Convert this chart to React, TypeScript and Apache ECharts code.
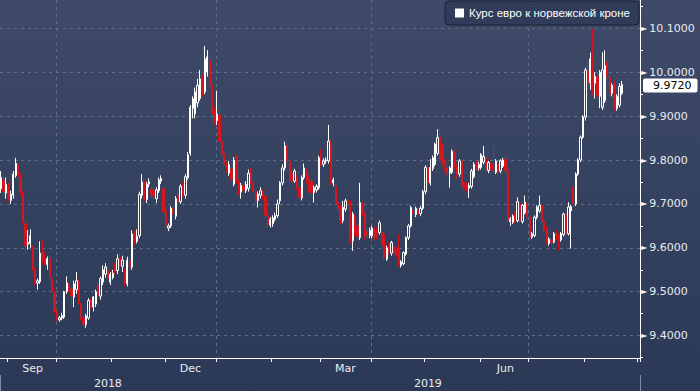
import React, { useEffect, useRef } from "react";
import * as echarts from "echarts";

const LEGEND_NAME = "Курс евро к норвежской кроне";
const LAST_PRICE = 9.972;
const START_DAY = "2018-08-29";
const END_DAY = "2019-09-02";
const MONTH_NAMES = ["Jan", "Feb", "Mar", "Apr", "May", "Jun", "Jul", "Aug", "Sep", "Oct", "Nov", "Dec"];
const LABEL_MONTHS = ["09", "12", "03", "06"];
const GRID_MONTHS = ["10", "01", "04", "07"];
const Y_MIN = 9.349;
const Y_MAX = 10.1645;

// [open, close, low, high] per trading day
const candles: number[][] = [
  [9.735, 9.760, 9.725, 9.775], [9.755, 9.728, 9.720, 9.765], [9.725, 9.745, 9.712, 9.760], [9.740, 9.712, 9.705, 9.748],
  [9.708, 9.722, 9.700, 9.730], [9.720, 9.768, 9.712, 9.775], [9.765, 9.792, 9.760, 9.805], [9.790, 9.762, 9.755, 9.805],
  [9.762, 9.728, 9.720, 9.770], [9.726, 9.660, 9.655, 9.730], [9.655, 9.605, 9.585, 9.660], [9.608, 9.612, 9.596, 9.640],
  [9.610, 9.628, 9.600, 9.642], [9.600, 9.552, 9.548, 9.605], [9.550, 9.522, 9.515, 9.555], [9.520, 9.525, 9.505, 9.530],
  [9.523, 9.588, 9.518, 9.615], [9.590, 9.575, 9.565, 9.618], [9.575, 9.565, 9.560, 9.590], [9.562, 9.575, 9.550, 9.580],
  [9.575, 9.532, 9.528, 9.582], [9.530, 9.502, 9.498, 9.535], [9.500, 9.455, 9.450, 9.505], [9.455, 9.437, 9.432, 9.460],
  [9.436, 9.441, 9.432, 9.445], [9.440, 9.446, 9.435, 9.452], [9.442, 9.500, 9.438, 9.502], [9.500, 9.520, 9.495, 9.535],
  [9.516, 9.506, 9.500, 9.520], [9.506, 9.490, 9.468, 9.510], [9.488, 9.518, 9.465, 9.525], [9.505, 9.525, 9.495, 9.545],
  [9.525, 9.478, 9.472, 9.528], [9.470, 9.440, 9.435, 9.475], [9.440, 9.426, 9.418, 9.445], [9.425, 9.445, 9.418, 9.450],
  [9.440, 9.480, 9.436, 9.485], [9.480, 9.466, 9.460, 9.485], [9.465, 9.488, 9.455, 9.490], [9.472, 9.500, 9.465, 9.505],
  [9.515, 9.490, 9.485, 9.520], [9.490, 9.530, 9.482, 9.535], [9.522, 9.550, 9.515, 9.560], [9.540, 9.556, 9.532, 9.565],
  [9.550, 9.530, 9.526, 9.556], [9.522, 9.540, 9.515, 9.545], [9.532, 9.542, 9.528, 9.550], [9.560, 9.545, 9.540, 9.566],
  [9.548, 9.575, 9.540, 9.585], [9.578, 9.560, 9.552, 9.590], [9.558, 9.572, 9.545, 9.582], [9.548, 9.518, 9.512, 9.552],
  [9.518, 9.572, 9.512, 9.580], [9.571, 9.556, 9.550, 9.576], [9.556, 9.632, 9.550, 9.640], [9.630, 9.616, 9.608, 9.640],
  [9.615, 9.626, 9.610, 9.642], [9.628, 9.722, 9.622, 9.728], [9.720, 9.750, 9.712, 9.768], [9.752, 9.708, 9.700, 9.758],
  [9.710, 9.745, 9.702, 9.750], [9.745, 9.750, 9.738, 9.758], [9.734, 9.720, 9.715, 9.738], [9.730, 9.716, 9.710, 9.735],
  [9.712, 9.732, 9.702, 9.738], [9.730, 9.755, 9.725, 9.760], [9.752, 9.758, 9.745, 9.765], [9.735, 9.682, 9.678, 9.740],
  [9.685, 9.652, 9.645, 9.690], [9.645, 9.650, 9.638, 9.655], [9.650, 9.690, 9.645, 9.695], [9.690, 9.676, 9.670, 9.700],
  [9.672, 9.712, 9.665, 9.718], [9.720, 9.705, 9.698, 9.732], [9.705, 9.740, 9.700, 9.745], [9.745, 9.722, 9.715, 9.750],
  [9.720, 9.762, 9.712, 9.768], [9.760, 9.812, 9.755, 9.818], [9.815, 9.920, 9.810, 9.925], [9.918, 9.940, 9.895, 9.945],
  [9.905, 9.955, 9.895, 9.965], [9.930, 9.970, 9.920, 9.985], [9.940, 9.985, 9.935, 10.005], [9.980, 9.954, 9.945, 9.995],
  [9.955, 10.030, 9.950, 10.060], [10.000, 10.035, 9.990, 10.050], [10.026, 9.970, 9.965, 10.040], [9.970, 9.905, 9.900, 9.985],
  [9.912, 9.890, 9.882, 9.920], [9.890, 9.905, 9.880, 9.958], [9.902, 9.842, 9.838, 9.930], [9.842, 9.812, 9.806, 9.848],
  [9.815, 9.790, 9.784, 9.820], [9.790, 9.780, 9.772, 9.795], [9.770, 9.790, 9.764, 9.798], [9.780, 9.756, 9.750, 9.785],
  [9.745, 9.800, 9.740, 9.807], [9.807, 9.752, 9.746, 9.812], [9.750, 9.727, 9.720, 9.756], [9.727, 9.742, 9.712, 9.748],
  [9.742, 9.730, 9.724, 9.748], [9.730, 9.745, 9.725, 9.752], [9.735, 9.770, 9.728, 9.778], [9.772, 9.750, 9.745, 9.782],
  [9.750, 9.728, 9.722, 9.755], [9.728, 9.708, 9.700, 9.732], [9.708, 9.722, 9.692, 9.728], [9.720, 9.730, 9.712, 9.738],
  [9.728, 9.716, 9.710, 9.734], [9.718, 9.674, 9.668, 9.722], [9.674, 9.652, 9.646, 9.678], [9.652, 9.665, 9.646, 9.670],
  [9.655, 9.668, 9.648, 9.674], [9.665, 9.673, 9.660, 9.680], [9.673, 9.700, 9.668, 9.710], [9.707, 9.748, 9.700, 9.752],
  [9.748, 9.782, 9.742, 9.790], [9.782, 9.832, 9.776, 9.842], [9.832, 9.798, 9.792, 9.838], [9.798, 9.752, 9.746, 9.802],
  [9.770, 9.752, 9.746, 9.778], [9.752, 9.775, 9.748, 9.780], [9.760, 9.737, 9.732, 9.766], [9.737, 9.714, 9.708, 9.742],
  [9.714, 9.760, 9.708, 9.765], [9.760, 9.782, 9.755, 9.792], [9.775, 9.752, 9.746, 9.780], [9.760, 9.730, 9.725, 9.765],
  [9.752, 9.726, 9.720, 9.756], [9.726, 9.737, 9.703, 9.742], [9.732, 9.740, 9.726, 9.745], [9.737, 9.805, 9.732, 9.810],
  [9.800, 9.790, 9.785, 9.825], [9.790, 9.798, 9.784, 9.804], [9.798, 9.800, 9.792, 9.806], [9.798, 9.843, 9.792, 9.880],
  [9.840, 9.748, 9.742, 9.846], [9.748, 9.755, 9.740, 9.760], [9.740, 9.700, 9.695, 9.745], [9.703, 9.688, 9.684, 9.706],
  [9.692, 9.660, 9.654, 9.698], [9.662, 9.692, 9.656, 9.707], [9.688, 9.707, 9.682, 9.712], [9.707, 9.700, 9.694, 9.712],
  [9.703, 9.616, 9.610, 9.708], [9.616, 9.677, 9.593, 9.682], [9.670, 9.632, 9.626, 9.675], [9.650, 9.625, 9.618, 9.655],
  [9.623, 9.703, 9.618, 9.748], [9.700, 9.677, 9.672, 9.705], [9.677, 9.623, 9.618, 9.682], [9.638, 9.628, 9.620, 9.642],
  [9.628, 9.640, 9.622, 9.646], [9.627, 9.645, 9.622, 9.650], [9.642, 9.623, 9.618, 9.648], [9.640, 9.625, 9.620, 9.645],
  [9.635, 9.657, 9.630, 9.662], [9.635, 9.605, 9.600, 9.646], [9.631, 9.578, 9.572, 9.636], [9.574, 9.600, 9.570, 9.605],
  [9.608, 9.589, 9.584, 9.612], [9.588, 9.612, 9.582, 9.616], [9.601, 9.588, 9.583, 9.606], [9.598, 9.584, 9.578, 9.602],
  [9.600, 9.563, 9.558, 9.630], [9.560, 9.568, 9.555, 9.572], [9.564, 9.589, 9.560, 9.592], [9.586, 9.623, 9.582, 9.626],
  [9.623, 9.650, 9.618, 9.654], [9.650, 9.692, 9.646, 9.696], [9.685, 9.677, 9.670, 9.690], [9.676, 9.690, 9.670, 9.694],
  [9.686, 9.676, 9.670, 9.690], [9.678, 9.690, 9.672, 9.695], [9.690, 9.728, 9.686, 9.732], [9.728, 9.783, 9.722, 9.788],
  [9.783, 9.748, 9.742, 9.788], [9.748, 9.783, 9.742, 9.802], [9.780, 9.805, 9.775, 9.810], [9.790, 9.836, 9.786, 9.840],
  [9.815, 9.851, 9.810, 9.870], [9.851, 9.800, 9.795, 9.877], [9.832, 9.794, 9.788, 9.838], [9.798, 9.780, 9.775, 9.802],
  [9.782, 9.768, 9.762, 9.786], [9.770, 9.782, 9.737, 9.786], [9.772, 9.820, 9.768, 9.824], [9.818, 9.783, 9.778, 9.822],
  [9.786, 9.764, 9.758, 9.790], [9.768, 9.798, 9.762, 9.802], [9.798, 9.740, 9.734, 9.802], [9.748, 9.733, 9.728, 9.752],
  [9.745, 9.735, 9.728, 9.750], [9.736, 9.742, 9.714, 9.748], [9.740, 9.775, 9.735, 9.780], [9.762, 9.790, 9.758, 9.795],
  [9.794, 9.782, 9.776, 9.798], [9.782, 9.790, 9.776, 9.796], [9.783, 9.812, 9.778, 9.816], [9.795, 9.808, 9.790, 9.832],
  [9.805, 9.779, 9.774, 9.810], [9.776, 9.794, 9.770, 9.798], [9.790, 9.782, 9.776, 9.795], [9.790, 9.775, 9.770, 9.832],
  [9.772, 9.798, 9.768, 9.802], [9.792, 9.772, 9.766, 9.796], [9.775, 9.798, 9.770, 9.802], [9.786, 9.800, 9.782, 9.805],
  [9.802, 9.776, 9.770, 9.806], [9.776, 9.662, 9.656, 9.780], [9.660, 9.666, 9.650, 9.670], [9.658, 9.672, 9.654, 9.676],
  [9.677, 9.662, 9.656, 9.682], [9.662, 9.705, 9.658, 9.715], [9.700, 9.662, 9.656, 9.704], [9.660, 9.697, 9.655, 9.700],
  [9.680, 9.704, 9.676, 9.719], [9.702, 9.670, 9.664, 9.706], [9.670, 9.624, 9.618, 9.674], [9.624, 9.632, 9.620, 9.636],
  [9.628, 9.670, 9.624, 9.674], [9.670, 9.693, 9.665, 9.697], [9.684, 9.697, 9.680, 9.719], [9.697, 9.660, 9.655, 9.700],
  [9.660, 9.640, 9.635, 9.664], [9.645, 9.613, 9.608, 9.650], [9.610, 9.620, 9.605, 9.624], [9.618, 9.613, 9.608, 9.622],
  [9.613, 9.632, 9.610, 9.636], [9.636, 9.624, 9.618, 9.640], [9.628, 9.617, 9.594, 9.632], [9.618, 9.632, 9.614, 9.636],
  [9.630, 9.677, 9.626, 9.680], [9.677, 9.632, 9.628, 9.680], [9.632, 9.693, 9.628, 9.704], [9.684, 9.694, 9.598, 9.698],
  [9.738, 9.700, 9.694, 9.742], [9.700, 9.768, 9.695, 9.772], [9.768, 9.800, 9.764, 9.804], [9.800, 9.852, 9.795, 9.856],
  [9.852, 9.898, 9.848, 9.902], [9.898, 10.005, 9.890, 10.010], [10.005, 9.975, 9.960, 10.030], [9.976, 10.030, 9.960, 10.045],
  [10.032, 9.975, 9.950, 10.099], [9.975, 9.990, 9.940, 10.000], [9.990, 9.945, 9.935, 9.995], [9.945, 10.000, 9.918, 10.005],
  [9.920, 10.005, 9.914, 10.045], [9.935, 10.015, 9.930, 10.050], [10.023, 9.989, 9.980, 10.030], [9.989, 9.950, 9.945, 9.995],
  [9.952, 9.970, 9.945, 9.975], [9.973, 9.917, 9.912, 9.978], [9.917, 9.945, 9.912, 9.950], [9.925, 9.968, 9.920, 9.975],
  [9.952, 9.972, 9.948, 9.980],
];

function buildTradingDays(start: string, end: string): string[] {
  const out: string[] = [];
  const d = new Date(start + "T00:00:00Z");
  const e = new Date(end + "T00:00:00Z");
  while (d.getTime() <= e.getTime()) {
    const wd = d.getUTCDay();
    if (wd !== 0 && wd !== 6) out.push(d.toISOString().slice(0, 10));
    d.setUTCDate(d.getUTCDate() + 1);
  }
  return out;
}

const days = buildTradingDays(START_DAY, END_DAY);

const monthStart: Record<string, number> = {};
const monthCount: Record<string, number> = {};
const yearFirst: Record<string, number> = {};
const yearLast: Record<string, number> = {};
days.forEach((d, i) => {
  const m = d.slice(0, 7);
  const y = d.slice(0, 4);
  if (monthStart[m] === undefined) {
    monthStart[m] = i;
    monthCount[m] = 0;
  }
  monthCount[m]++;
  if (yearFirst[y] === undefined) yearFirst[y] = i;
  yearLast[y] = i;
});

const tickIdx = new Set<number>();
const gridIdx = new Set<number>();
const monthLabelIdx = new Set<number>();
Object.keys(monthStart).forEach((m) => {
  const s = monthStart[m];
  const mm = m.slice(5, 7);
  if (s > 0) tickIdx.add(s);
  if (s > 0 && GRID_MONTHS.includes(mm)) gridIdx.add(s);
  if (LABEL_MONTHS.includes(mm) && monthCount[m] >= 10) monthLabelIdx.add(s + Math.floor(monthCount[m] / 2));
});
const yearLabelIdx = new Set<number>();
const yearBoundaryIdx = new Set<number>();
Object.keys(yearFirst).forEach((y) => {
  yearLabelIdx.add(Math.floor((yearFirst[y] + yearLast[y]) / 2));
  if (yearFirst[y] > 0) yearBoundaryIdx.add(yearFirst[y]);
});

const GRID_COLOR = "#5e6d8b";
const TEXT_COLOR = "#e9ecf2";

export default function App() {
  const ref = useRef<HTMLDivElement>(null);
  useEffect(() => {
    if (!ref.current) return;
    const chart = echarts.init(ref.current, undefined, { renderer: "svg" });
    chart.setOption({
      animation: false,
      backgroundColor: new echarts.graphic.LinearGradient(0, 0, 0, 1, [
        { offset: 0, color: "#3e4a68" },
        { offset: 1, color: "#2b3956" },
      ]),
      textStyle: { fontFamily: "DejaVu Sans" },
      legend: {
        right: 61,
        top: 1,
        data: [{ name: LEGEND_NAME, icon: "rect", itemStyle: { color: "#ffffff", borderWidth: 0 } }],
        itemWidth: 9,
        itemHeight: 9,
        padding: [6, 9, 6, 10],
        backgroundColor: "#303c59",
        borderColor: "#1a2131",
        borderWidth: 1,
        borderRadius: 4,
        selectedMode: false,
        textStyle: { color: "#ffffff", fontSize: 11.5, fontFamily: "Liberation Sans" },
      },
      grid: { left: 0, right: 60, top: 0, bottom: 33, containLabel: false, outerBoundsMode: "none" },
      xAxis: [
        {
          type: "category",
          data: days,
          boundaryGap: true,
          axisLine: { show: true, lineStyle: { color: "#ffffff", width: 1 } },
          axisTick: { show: true, length: 4, interval: (i: number) => tickIdx.has(i), lineStyle: { color: "#ffffff" } },
          axisLabel: {
            interval: (i: number) => monthLabelIdx.has(i),
            formatter: (v: string) => MONTH_NAMES[parseInt(v.slice(5, 7), 10) - 1],
            color: TEXT_COLOR,
            fontSize: 11,
            margin: 5,
          },
          splitLine: {
            show: true,
            interval: (i: number) => gridIdx.has(i),
            lineStyle: { color: GRID_COLOR, type: [3, 4], width: 1 },
          },
        },
        {
          type: "category",
          data: days,
          position: "bottom",
          offset: 17,
          boundaryGap: true,
          axisLine: { show: false },
          axisTick: {
            show: true,
            length: 16,
            interval: (i: number) => yearBoundaryIdx.has(i),
            lineStyle: { color: "#7f89a2" },
          },
          axisLabel: {
            interval: (i: number) => yearLabelIdx.has(i),
            formatter: (v: string) => v.slice(0, 4),
            color: TEXT_COLOR,
            fontSize: 11,
            margin: 3,
          },
          splitLine: { show: false },
        },
      ],
      yAxis: {
        type: "value",
        position: "right",
        min: Y_MIN,
        max: Y_MAX,
        splitNumber: 8,
        scale: true,
        axisLine: { show: true, lineStyle: { color: "#ffffff", width: 1 } },
        axisTick: { show: false },
        minorTick: { show: true, splitNumber: 2, length: 3, lineStyle: { color: "#ffffff" } },
        axisLabel: {
          margin: 1,
          showMinLabel: false,
          showMaxLabel: false,
          formatter: (v: number) => "{t|►}{v|" + v.toFixed(4) + "}",
          rich: {
            t: { fontSize: 8, color: "#ffffff", padding: [0, 2, 0, 0] },
            v: { fontSize: 11, color: TEXT_COLOR },
          },
        },
        splitLine: {
          show: true,
          showMinLine: false,
          showMaxLine: false,
          lineStyle: { color: GRID_COLOR, type: [3, 4], width: 1 },
        },
      },
      series: [
        {
          type: "candlestick",
          name: LEGEND_NAME,
          xAxisIndex: 0,
          data: candles,
          barWidth: "75%",
          itemStyle: {
            color: "transparent",
            color0: "#d4161f",
            borderColor: "#ffffff",
            borderColor0: "#d4161f",
            borderWidth: 1,
          },
          markLine: {
            silent: true,
            symbol: ["none", "none"],
            lineStyle: { color: "rgba(0,0,0,0)", width: 0, type: "solid" },
            data: [{ yAxis: LAST_PRICE }],
            label: {
              show: true,
              position: "end",
              distance: 3,
              formatter: LAST_PRICE.toFixed(4),
              backgroundColor: "#ffffff",
              color: "#000000",
              fontSize: 11,
              padding: [2, 6, 1, 10],
              borderRadius: 2,
            },
          },
        },
      ],
    });
    return () => chart.dispose();
  }, []);
  return (
    <div
      ref={ref}
      style={{ position: "fixed", left: 0, top: 0, width: 700, height: 391 }}
    />
  );
}
